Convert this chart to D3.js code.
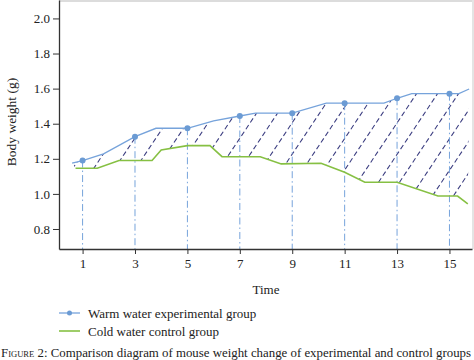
<!DOCTYPE html>
<html>
<head>
<meta charset="utf-8">
<script src="https://cdn.jsdelivr.net/npm/d3@7"></script>
<style>
  html, body { margin: 0; padding: 0; background: #fff; }
  svg { display: block; }
  text { font-family: "Liberation Serif", "DejaVu Serif", serif; fill: #222; }
</style>
</head>
<body>
<svg id="chart" width="474" height="360"></svg>
<script>
// ---- data ----
const warmDays   = [0.6, 1, 1.8, 3, 3.8, 5, 6, 7, 7.6, 9, 10.3, 11, 12.5, 13, 13.56, 15, 15.36, 15.75];
const warmValues = [1.175, 1.19, 1.228, 1.326, 1.374, 1.374, 1.416, 1.444, 1.46, 1.46, 1.517, 1.517, 1.517, 1.545, 1.571, 1.571, 1.571, 1.598];
const coldDays   = [0.73, 1.56, 2.39, 3.65, 4, 5, 5.86, 6.32, 7.78, 8.58, 10.1, 11, 11.77, 13, 14.56, 15.31, 15.7];
const coldValues = [1.146, 1.146, 1.19, 1.19, 1.25, 1.275, 1.275, 1.212, 1.212, 1.171, 1.175, 1.123, 1.066, 1.066, 0.988, 0.988, 0.943];
const markerDays = [1, 3, 5, 7, 9, 11, 13, 15];
const xTicks = [1, 3, 5, 7, 9, 11, 13, 15];
const yTicks = [0.8, 1.0, 1.2, 1.4, 1.6, 1.8, 2.0];
const seriesNames = ["Warm water experimental group", "Cold water control group"];
const xTitle = "Time";
const yTitle = "Body weight (g)";
const captionLabel = "Figure 2:";
const captionText = "Comparison diagram of mouse weight change of experimental and control groups";

(function () {
// ---- layout ----
const mLeft = 59, mRight = 472, mTop = 0, mBottom = 249;
const blue = "#76a3db", blueDark = "#6b9bd4", green = "#86c043", hatch = "#3b3d80";

const svg = d3.select("#chart");
const x = d3.scaleLinear().domain([0.1, 15.86]).range([mLeft, mRight]);
const y = d3.scaleLinear().domain([0.686, 2.105]).range([mBottom, mTop]);

const warm = warmDays.map((d, i) => ({ x: d, y: warmValues[i] }));
const cold = coldDays.map((d, i) => ({ x: d, y: coldValues[i] }));
const markers = markerDays.map(d => warm.find(p => p.x === d));

// frame (light grey top/right)
svg.append("line").attr("x1", mLeft).attr("x2", 474).attr("y1", 1).attr("y2", 1)
  .attr("stroke", "#dcdcdc").attr("stroke-width", 2);
svg.append("line").attr("x1", 473).attr("x2", 473).attr("y1", 0).attr("y2", mBottom)
  .attr("stroke", "#e4e4e4").attr("stroke-width", 2);

// hatch between the curves
const line = d3.line().x(d => x(d.x)).y(d => y(d.y));
const poly = warm.concat(cold.slice().reverse());
const defs = svg.append("defs");
defs.append("clipPath").attr("id", "band").append("path").attr("d", line(poly) + "Z");
const slope = 1.5, spacing = 21;
const hatchG = svg.append("g").attr("clip-path", "url(#band)");
const h = mBottom - mTop;
for (let x0 = mLeft - h / slope; x0 < mRight + 10; x0 += spacing) {
  hatchG.append("line")
    .attr("x1", x0).attr("y1", mBottom)
    .attr("x2", x0 + h / slope).attr("y2", mTop)
    .attr("stroke", hatch).attr("stroke-width", 1.1)
    .attr("stroke-dasharray", "5,3");
}

// drop lines
svg.append("g").selectAll("line").data(markers).join("line")
  .attr("x1", d => x(d.x)).attr("x2", d => x(d.x))
  .attr("y1", d => y(d.y)).attr("y2", mBottom)
  .attr("stroke", blue).attr("stroke-width", 1)
  .attr("stroke-dasharray", "7,3,1.5,3");

// series
svg.append("path").attr("d", line(cold)).attr("fill", "none")
  .attr("stroke", green).attr("stroke-width", 1.6);
svg.append("path").attr("d", line(warm)).attr("fill", "none")
  .attr("stroke", blue).attr("stroke-width", 1.3);
svg.append("g").selectAll("circle").data(markers).join("circle")
  .attr("cx", d => x(d.x)).attr("cy", d => y(d.y)).attr("r", 3)
  .attr("fill", blueDark);

// axes
const xAxis = svg.append("g").attr("transform", `translate(0,${mBottom})`)
  .call(d3.axisBottom(x).tickValues(xTicks).tickSize(5).tickPadding(5).tickSizeOuter(0));
const yAxis = svg.append("g").attr("transform", `translate(${mLeft},0)`)
  .call(d3.axisLeft(y).tickValues(yTicks).tickFormat(d3.format(".1f")).tickSize(6).tickPadding(3).tickSizeOuter(0));
[xAxis, yAxis].forEach(g => {
  g.selectAll("path.domain").attr("stroke", "#333").attr("stroke-width", 1.3);
  g.selectAll(".tick line").attr("stroke", "#333").attr("stroke-width", 1);
  g.selectAll(".tick text").style("font-family", '"Liberation Serif", serif')
    .style("font-size", "13px").attr("fill", "#222");
});

// titles
svg.append("text").attr("x", 266).attr("y", 294).attr("text-anchor", "middle")
  .style("font-size", "13px").text(xTitle);
svg.append("text").attr("transform", "translate(16,122) rotate(-90)")
  .attr("text-anchor", "middle").style("font-size", "13.5px").text(yTitle);

// legend
const lg = svg.append("g");
lg.append("line").attr("x1", 59).attr("x2", 80).attr("y1", 313).attr("y2", 313)
  .attr("stroke", blue).attr("stroke-width", 1.3);
lg.append("circle").attr("cx", 69.5).attr("cy", 313).attr("r", 2.5).attr("fill", blueDark);
lg.append("text").attr("x", 88).attr("y", 318).style("font-size", "13px").text(seriesNames[0]);
lg.append("line").attr("x1", 59).attr("x2", 80).attr("y1", 331).attr("y2", 331)
  .attr("stroke", green).attr("stroke-width", 1.6);
lg.append("text").attr("x", 88).attr("y", 336).style("font-size", "13px").text(seriesNames[1]);

// caption, kept inside the picture
const cap = svg.append("text").attr("x", 1).attr("y", 357)
  .attr("textLength", 470).attr("lengthAdjust", "spacingAndGlyphs")
  .style("font-size", "12px").attr("fill", "#333");
cap.append("tspan").style("font-variant", "small-caps").text(captionLabel + " ");
cap.append("tspan").text(captionText);
})();
</script>
</body>
</html>
